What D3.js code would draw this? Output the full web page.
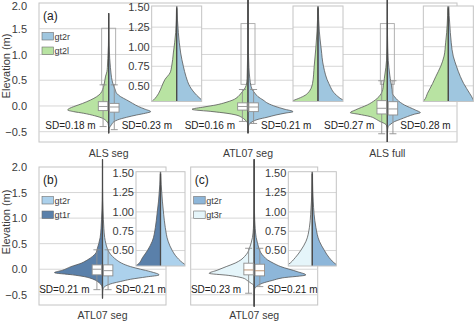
<!DOCTYPE html>
<html>
<head>
<meta charset="utf-8">
<script src="https://cdn.jsdelivr.net/npm/d3@7"></script>
<style>
  body { margin: 0; background: #fff; }
  svg { display: block; font-family: "Liberation Sans", Arial, Helvetica, sans-serif; }
</style>
</head>
<body>
<div id="chart"></div>
<script>
// ---- data -------------------------------------------------------------
const yTicks = [-0.5, 0, 0.5, 1, 1.5, 2];
const insetTicks = [0.5, 0.75, 1, 1.25, 1.5];
const categoriesA = ["ALS seg", "ATL07 seg", "ALS full"];
const categoriesB = ["ATL07 seg"];
const categoriesC = ["ATL07 seg"];

// kernel density per half violin: [elevation (m), density (1/m)]
const alsSegGt2l = [[-0.53,0],[-0.42,0.005],[-0.336,0.03],[-0.29,0.12],[-0.24,0.3],[-0.19,0.7],[-0.142,1.25],[-0.11,1.75],[-0.078,2.05],[-0.045,1.95],[-0.013,1.75],[0.05,1.3],[0.117,0.9],[0.18,0.6],[0.246,0.4],[0.32,0.3],[0.405,0.234],[0.49,0.195],[0.58,0.153],[0.665,0.087],[0.75,0.065],[0.92,0.043],[1.18,0.013],[1.5,0.002],[1.8,0]];
const alsSegGt2r = [[-0.53,0],[-0.47,0.005],[-0.43,0.03],[-0.36,0.15],[-0.31,0.25],[-0.27,0.45],[-0.22,0.9],[-0.175,1.4],[-0.14,1.85],[-0.11,2.1],[-0.06,1.8],[-0.013,1.5],[0.05,1.2],[0.117,0.9],[0.18,0.6],[0.246,0.4],[0.32,0.325],[0.38,0.26],[0.49,0.173],[0.62,0.121],[0.75,0.087],[0.92,0.052],[1.18,0.022],[1.5,0.004],[1.8,0]];
const atlSegGt2l = [[-0.53,0],[-0.4,0.005],[-0.336,0.02],[-0.3,0.07],[-0.27,0.15],[-0.22,0.32],[-0.175,0.6],[-0.14,1.1],[-0.11,1.75],[-0.065,2.8],[-0.02,2.2],[0.02,1.6],[0.07,1.1],[0.117,0.75],[0.18,0.5],[0.246,0.35],[0.32,0.195],[0.4,0.09],[0.53,0.046],[0.75,0.032],[0.97,0.019],[1.2,0.008],[1.5,0.002],[2.1,0]];
const atlSegGt2r = [[-0.53,0],[-0.45,0.005],[-0.37,0.04],[-0.31,0.2],[-0.26,0.5],[-0.22,0.95],[-0.175,1.4],[-0.14,1.85],[-0.11,2.25],[-0.06,1.8],[-0.013,1.4],[0.05,1.0],[0.117,0.75],[0.18,0.5],[0.246,0.35],[0.32,0.21],[0.38,0.155],[0.53,0.091],[0.75,0.046],[0.97,0.027],[1.2,0.011],[1.5,0.003],[2.1,0]];
const alsFullGt2l = [[-0.7,0],[-0.45,0.01],[-0.37,0.05],[-0.33,0.2],[-0.305,0.35],[-0.26,0.55],[-0.207,0.85],[-0.16,1.45],[-0.13,1.85],[-0.078,1.6],[0.02,1.0],[0.117,0.6],[0.18,0.42],[0.246,0.3],[0.32,0.23],[0.405,0.2],[0.53,0.151],[0.62,0.12],[0.75,0.073],[0.88,0.041],[1.05,0.026],[1.18,0.016],[1.4,0.007],[1.7,0.002],[2.1,0]];
const alsFullGt2r = [[-0.7,0],[-0.5,0.01],[-0.4,0.04],[-0.35,0.18],[-0.305,0.35],[-0.26,0.65],[-0.207,1.0],[-0.16,1.35],[-0.13,1.65],[-0.078,1.4],[0.02,0.85],[0.117,0.5],[0.18,0.36],[0.246,0.25],[0.32,0.24],[0.405,0.204],[0.53,0.147],[0.62,0.115],[0.75,0.078],[0.88,0.047],[1.05,0.028],[1.18,0.019],[1.4,0.008],[1.7,0.002],[2.1,0]];
const bGt1r = [[-0.57,0],[-0.42,0.005],[-0.33,0.03],[-0.29,0.1],[-0.24,0.25],[-0.19,0.5],[-0.146,0.9],[-0.11,1.5],[-0.067,2.4],[-0.02,2.0],[0.05,1.58],[0.12,1.05],[0.183,0.75],[0.25,0.5],[0.32,0.325],[0.41,0.256],[0.5,0.187],[0.62,0.118],[0.8,0.073],[0.97,0.05],[1.14,0.028],[1.35,0.01],[1.6,0.002],[2.15,0]];
const bGt2r = [[-0.57,0],[-0.45,0.005],[-0.374,0.04],[-0.33,0.15],[-0.276,0.5],[-0.24,0.9],[-0.197,1.4],[-0.15,2.2],[-0.112,2.83],[-0.047,2.4],[0,1.9],[0.051,1.4],[0.12,0.95],[0.183,0.7],[0.25,0.5],[0.32,0.35],[0.41,0.237],[0.5,0.168],[0.62,0.109],[0.8,0.068],[0.97,0.045],[1.14,0.027],[1.35,0.01],[1.6,0.002],[2.15,0]];
const cGt3r = [[-0.73,0],[-0.4,0.005],[-0.31,0.03],[-0.276,0.15],[-0.22,0.35],[-0.17,0.58],[-0.12,1.3],[-0.08,2.25],[-0.02,1.85],[0.051,1.4],[0.12,0.95],[0.183,0.665],[0.25,0.48],[0.32,0.335],[0.41,0.236],[0.5,0.162],[0.62,0.088],[0.8,0.04],[0.97,0.023],[1.14,0.012],[1.4,0.004],[2.15,0]];
const cGt2r = [[-0.73,0],[-0.45,0.005],[-0.374,0.03],[-0.33,0.15],[-0.276,0.4],[-0.22,0.9],[-0.17,1.4],[-0.112,2.58],[-0.047,2.15],[0.051,1.33],[0.12,0.95],[0.183,0.665],[0.25,0.48],[0.32,0.335],[0.41,0.234],[0.5,0.17],[0.62,0.099],[0.8,0.05],[0.97,0.025],[1.14,0.013],[1.4,0.004],[2.15,0]];

// box stats: [low whisker, q1, median, q3, high whisker]
const boxAGt2l = [[-0.40,-0.09,-0.01,0.083,0.41],[-0.30,-0.08,-0.01,0.06,0.32],[-0.54,-0.155,-0.045,0.103,0.49]];
const boxAGt2r = [[-0.46,-0.12,-0.02,0.05,0.41],[-0.34,-0.11,-0.02,0.06,0.32],[-0.54,-0.175,-0.058,0.083,0.49]];
const boxBGt1r = [[-0.40,-0.11,0,0.085,0.38]];
const boxBGt2r = [[-0.40,-0.13,-0.028,0.085,0.38]];
const boxCGt3r = [[-0.47,-0.11,-0.014,0.118,0.41]];
const boxCGt2r = [[-0.34,-0.13,-0.03,0.098,0.41]];

// standard deviations (m)
const sdAGt2l = [0.18, 0.16, 0.27];
const sdAGt2r = [0.23, 0.21, 0.28];
const sdBGt1r = [0.21];
const sdBGt2r = [0.21];
const sdCGt3r = [0.23];
const sdCGt2r = [0.21];

// elevation windows marked in (a) and magnified in the insets
const zoomWindowA = [[0.42, 1.51], [0.42, 1.6], [0.42, 1.6]];
const insetDomain = [0.3, 1.52];

// ---- drawing ----------------------------------------------------------
const W = 474, H = 322;
const gridColor = "#d6d6d6", frameColor = "#c4c4c4", outline = "#585858",
      boxColor = "#8e8e8e", textColor = "#3a3a3a";

const svg = d3.select("#chart").append("svg").attr("width", W).attr("height", H);

const panels = [
  { label: "(a)", frame: { x0: 39, x1: 457, y0: 3, y1: 142 }, yAxis: true, titleY: 66,
    categories: categoriesA, catLabelY: 157,
    halves: [
      { name: "gt2l", side: -1, fill: "#b8e3a2", dens: [alsSegGt2l, atlSegGt2l, alsFullGt2l], box: boxAGt2l, sd: sdAGt2l },
      { name: "gt2r", side: 1, fill: "#9fc6df", dens: [alsSegGt2r, atlSegGt2r, alsFullGt2r], box: boxAGt2r, sd: sdAGt2r }
    ],
    legendOrder: [1, 0], sdY: 128.5, zoom: zoomWindowA,
    inset: { offsets: [43, 45, 36], width: 50, y0: 6, y1: 101.5, labels: [true, false, false] } },
  { label: "(b)", frame: { x0: 39, x1: 166, y0: 167, y1: 305 }, yAxis: true, titleY: 222,
    categories: categoriesB, catLabelY: 319,
    halves: [
      { name: "gt1r", side: -1, fill: "#5a80aa", dens: [bGt1r], box: boxBGt1r, sd: sdBGt1r },
      { name: "gt2r", side: 1, fill: "#acd1ec", dens: [bGt2r], box: boxBGt2r, sd: sdBGt2r }
    ],
    legendOrder: [1, 0], sdY: 292.5,
    inset: { offsets: [33.5], width: 49, y0: 171.7, y1: 266, labels: [true] } },
  { label: "(c)", frame: { x0: 190.7, x1: 317.7, y0: 167, y1: 305 }, yAxis: false,
    categories: categoriesC, catLabelY: 319,
    halves: [
      { name: "gt3r", side: -1, fill: "#e5f5fa", dens: [cGt3r], box: boxCGt3r, sd: sdCGt3r },
      { name: "gt2r", side: 1, fill: "#8db6d9", dens: [cGt2r], box: boxCGt2r, sd: sdCGt2r }
    ],
    legendOrder: [1, 0], sdY: 292.5, median: "#b58a66",
    inset: { offsets: [34.1], width: 48, y0: 171.7, y1: 266, labels: [true] } }
];

// density (1/m) -> half-width in px for the main plots
const widthMain = d3.scaleLinear().domain([0, 1]).range([0, 20]);

function halfArea(cx, side, y, w) {
  return d3.area()
    .curve(d3.curveMonotoneY)
    .y(d => y(d[0]))
    .x0(cx)
    .x1(d => cx + side * w(d[1]));
}

let clipId = 0;

panels.forEach(p => {
  const f = p.frame;
  const g = svg.append("g");
  const x = d3.scalePoint().domain(p.categories).range([f.x0, f.x1]).padding(0.5);
  const y = d3.scaleLinear().domain([-0.7, 2.0]).range([f.y1, f.y0]);

  g.append("rect")
    .attr("x", f.x0).attr("y", f.y0)
    .attr("width", f.x1 - f.x0).attr("height", f.y1 - f.y0)
    .attr("fill", "#fff").attr("stroke", frameColor);

  g.selectAll(".grid").data(yTicks.slice(0, -1)).join("line")
    .attr("x1", f.x0).attr("x2", f.x1)
    .attr("y1", d => y(d)).attr("y2", d => y(d))
    .attr("stroke", gridColor);

  if (p.yAxis) {
    const ax = g.append("g").attr("transform", `translate(${f.x0 - 9},0)`)
      .call(d3.axisLeft(y).tickValues(yTicks).tickFormat(d3.format(".1f")).tickSize(0));
    ax.select(".domain").remove();
    ax.selectAll("text").attr("font-size", 11).attr("fill", textColor)
      .attr("font-family", null).text(d => d3.format(".1f")(d).replace("-", "\u2212"))
      .attr("dy", d => (y(d) < 8 ? "0.6em" : "0.32em"));
    g.append("text")
      .attr("transform", `translate(10,${p.titleY}) rotate(-90)`)
      .attr("text-anchor", "middle").attr("font-size", 11).attr("fill", textColor)
      .text("Elevation (m)");
  }

  // category labels
  g.selectAll(".cat").data(p.categories).join("text")
    .attr("x", d => x(d)).attr("y", p.catLabelY)
    .attr("text-anchor", "middle").attr("font-size", 10.5).attr("fill", textColor)
    .text(d => d);

  // panel label + legend
  g.append("text").attr("x", f.x0 + 4).attr("y", f.y0 + 17)
    .attr("font-size", 12).attr("fill", "#222").text(p.label);
  p.legendOrder.forEach((hi, i) => {
    const h = p.halves[hi];
    const ly = f.y0 + 29.5 + i * 14.5;
    g.append("rect").attr("x", f.x0 + 3).attr("y", ly)
      .attr("width", 11.5).attr("height", 7.5)
      .attr("fill", h.fill).attr("stroke", "#6d6d6d").attr("stroke-width", 0.6);
    g.append("text").attr("x", f.x0 + 15.5).attr("y", ly + 7)
      .attr("font-size", 9).attr("fill", textColor).text(h.name);
  });

  p.categories.forEach((cat, ci) => {
    const cx = x(cat);

    // marked zoom window
    if (p.zoom) {
      const [lo, hi] = p.zoom[ci];
      g.append("rect")
        .attr("x", cx - 7).attr("width", 14)
        .attr("y", y(hi)).attr("height", y(lo) - y(hi))
        .attr("fill", "none").attr("stroke", "#a9a9a9").attr("stroke-width", 0.9);
    }

    // half violins
    p.halves.forEach(h => {
      g.append("path").datum(h.dens[ci])
        .attr("d", halfArea(cx, h.side, y, widthMain))
        .attr("fill", h.fill).attr("stroke", outline).attr("stroke-width", 0.8);
    });
    const ext = d3.extent(p.halves.flatMap(h => h.dens[ci].map(d => d[0])));
    g.append("line").attr("x1", cx).attr("x2", cx)
      .attr("y1", y(ext[0])).attr("y2", y(ext[1]))
      .attr("stroke", "#4a4a4a").attr("stroke-width", 1.3);

    // box plots
    p.halves.forEach(h => {
      const [lo, q1, med, q3, hi] = h.box[ci];
      const bx = cx + h.side * 5.6;
      const bg = g.append("g").attr("stroke", boxColor).attr("stroke-width", 0.9);
      bg.append("line").attr("x1", bx).attr("x2", bx).attr("y1", y(q1)).attr("y2", y(lo));
      bg.append("line").attr("x1", bx).attr("x2", bx).attr("y1", y(q3)).attr("y2", y(hi));
      [lo, hi].forEach(v => bg.append("line")
        .attr("x1", bx - 3.5).attr("x2", bx + 3.5).attr("y1", y(v)).attr("y2", y(v)));
      bg.append("rect").attr("x", bx - 4.75).attr("width", 9.5)
        .attr("y", y(q3)).attr("height", y(q1) - y(q3)).attr("fill", "#fff");
      bg.append("line").attr("x1", bx - 4.75).attr("x2", bx + 4.75)
        .attr("y1", y(med)).attr("y2", y(med))
        .attr("stroke", p.median || boxColor);
    });

    // SD labels
    p.halves.forEach(h => {
      g.append("text")
        .attr("x", cx + h.side * 13).attr("y", p.sdY)
        .attr("text-anchor", h.side < 0 ? "end" : "start")
        .attr("font-size", 10).attr("fill", "#222")
        .text(`SD=${h.sd[ci].toFixed(2)} m`);
    });
  });

  // insets
  p.categories.forEach((cat, ci) => {
    const ins = p.inset;
    const ix0 = x(cat) + ins.offsets[ci], ix1 = ix0 + ins.width;
    const icx = (ix0 + ix1) / 2;
    const iy = d3.scaleLinear().domain(insetDomain).range([ins.y1, ins.y0]);
    const inRange = p.halves.flatMap(h => h.dens[ci])
      .filter(d => d[0] >= insetDomain[0] - 0.03 && d[0] <= insetDomain[1]);
    const iw = d3.scaleLinear().domain([0, d3.max(inRange, d => d[1])]).range([0, ins.width / 2]);

    const ig = svg.append("g");
    const id = "clip" + (clipId++);
    ig.append("clipPath").attr("id", id).append("rect")
      .attr("x", ix0).attr("y", ins.y0).attr("width", ins.width).attr("height", ins.y1 - ins.y0);
    ig.append("rect").attr("x", ix0).attr("y", ins.y0)
      .attr("width", ins.width).attr("height", ins.y1 - ins.y0)
      .attr("fill", "#fff");
    ig.selectAll(".igrid").data(insetTicks.slice(0, -1)).join("line")
      .attr("x1", ix0).attr("x2", ix1)
      .attr("y1", d => iy(d)).attr("y2", d => iy(d))
      .attr("stroke", gridColor);
    const vg = ig.append("g").attr("clip-path", `url(#${id})`);
    p.halves.forEach(h => {
      vg.append("path").datum(h.dens[ci])
        .attr("d", halfArea(icx, h.side, iy, iw))
        .attr("fill", h.fill).attr("stroke", outline).attr("stroke-width", 0.8);
    });
    vg.append("line").attr("x1", icx).attr("x2", icx)
      .attr("y1", ins.y1).attr("y2", iy(1.49))
      .attr("stroke", "#4a4a4a").attr("stroke-width", 1.3);
    ig.append("rect").attr("x", ix0).attr("y", ins.y0)
      .attr("width", ins.width).attr("height", ins.y1 - ins.y0)
      .attr("fill", "none").attr("stroke", frameColor);

    if (ins.labels[ci]) {
      ig.selectAll(".ilab").data(insetTicks).join("text")
        .attr("x", ix0 - 2).attr("y", d => iy(d)).attr("dy", "0.35em")
        .attr("text-anchor", "end").attr("font-size", 11).attr("fill", textColor)
        .text(d => d3.format(".2f")(d));
    }
  });
});
</script>
</body>
</html>
